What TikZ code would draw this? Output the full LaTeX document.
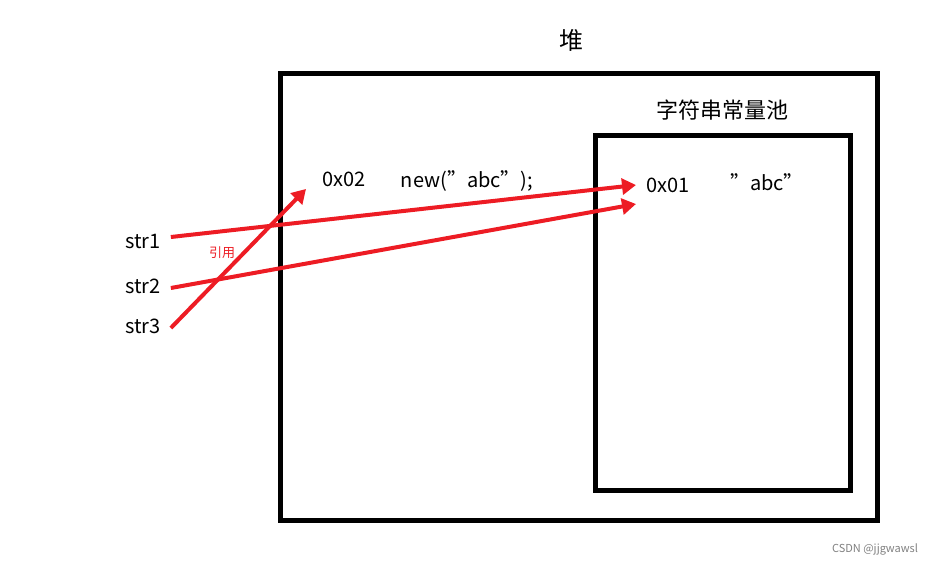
\documentclass[tikz,border=0pt]{standalone}
\usepackage{fontspec}
\setmainfont{Noto Sans CJK SC}
\usetikzlibrary{arrows.meta}
\definecolor{arr}{RGB}{237,28,36}
\begin{document}
\begin{tikzpicture}[x=1pt,y=-1pt,
  box/.style={draw=black,line width=5pt},
  lbl/.style={font=\fontsize{20}{22}\selectfont,inner sep=0pt},
  ref/.style={draw=arr,line width=4pt,-{Triangle[length=14pt,width=16pt]}}]
\useasboundingbox (0,0) rectangle (940,566);
\draw[box] (280,73) rectangle (877,520);
\draw[box] (595,135) rectangle (850,490);
\node[lbl,font=\fontsize{24}{26}\selectfont] (heap) at (571,40) {堆};
\node[lbl,font=\fontsize{22}{24}\selectfont] (pool) at (722,110) {字符串常量池};
\node[lbl] (a2) at (344,179) {0x02};
\node[lbl] (n2) at (467,181) {new("abc");};
\node[lbl] (a1) at (668,185) {0x01};
\node[lbl] (v1) at (767,182) {"abc"};
\node[lbl] (s1) at (143,241) {str1};
\node[lbl] (s2) at (143,286) {str2};
\node[lbl] (s3) at (143,326) {str3};
\node[inner sep=0pt,text=arr,font=\fontsize{13}{14}\selectfont] (yy) at (222,253) {引用};
\node[inner sep=0pt,text=gray,font=\fontsize{11}{12}\selectfont] (wm) at (875,549) {CSDN @jjgwawsl};
\coordinate (t1) at (636,185);
\coordinate (t2) at (636,204);
\coordinate (t3) at (306,189);
\draw[ref] (s1.east)++(10,-4) -- (t1);
\draw[ref] (s2.east)++(10,2) -- (t2);
\draw[ref] (s3.east)++(10,2) -- (t3);
\end{tikzpicture}
\end{document}
